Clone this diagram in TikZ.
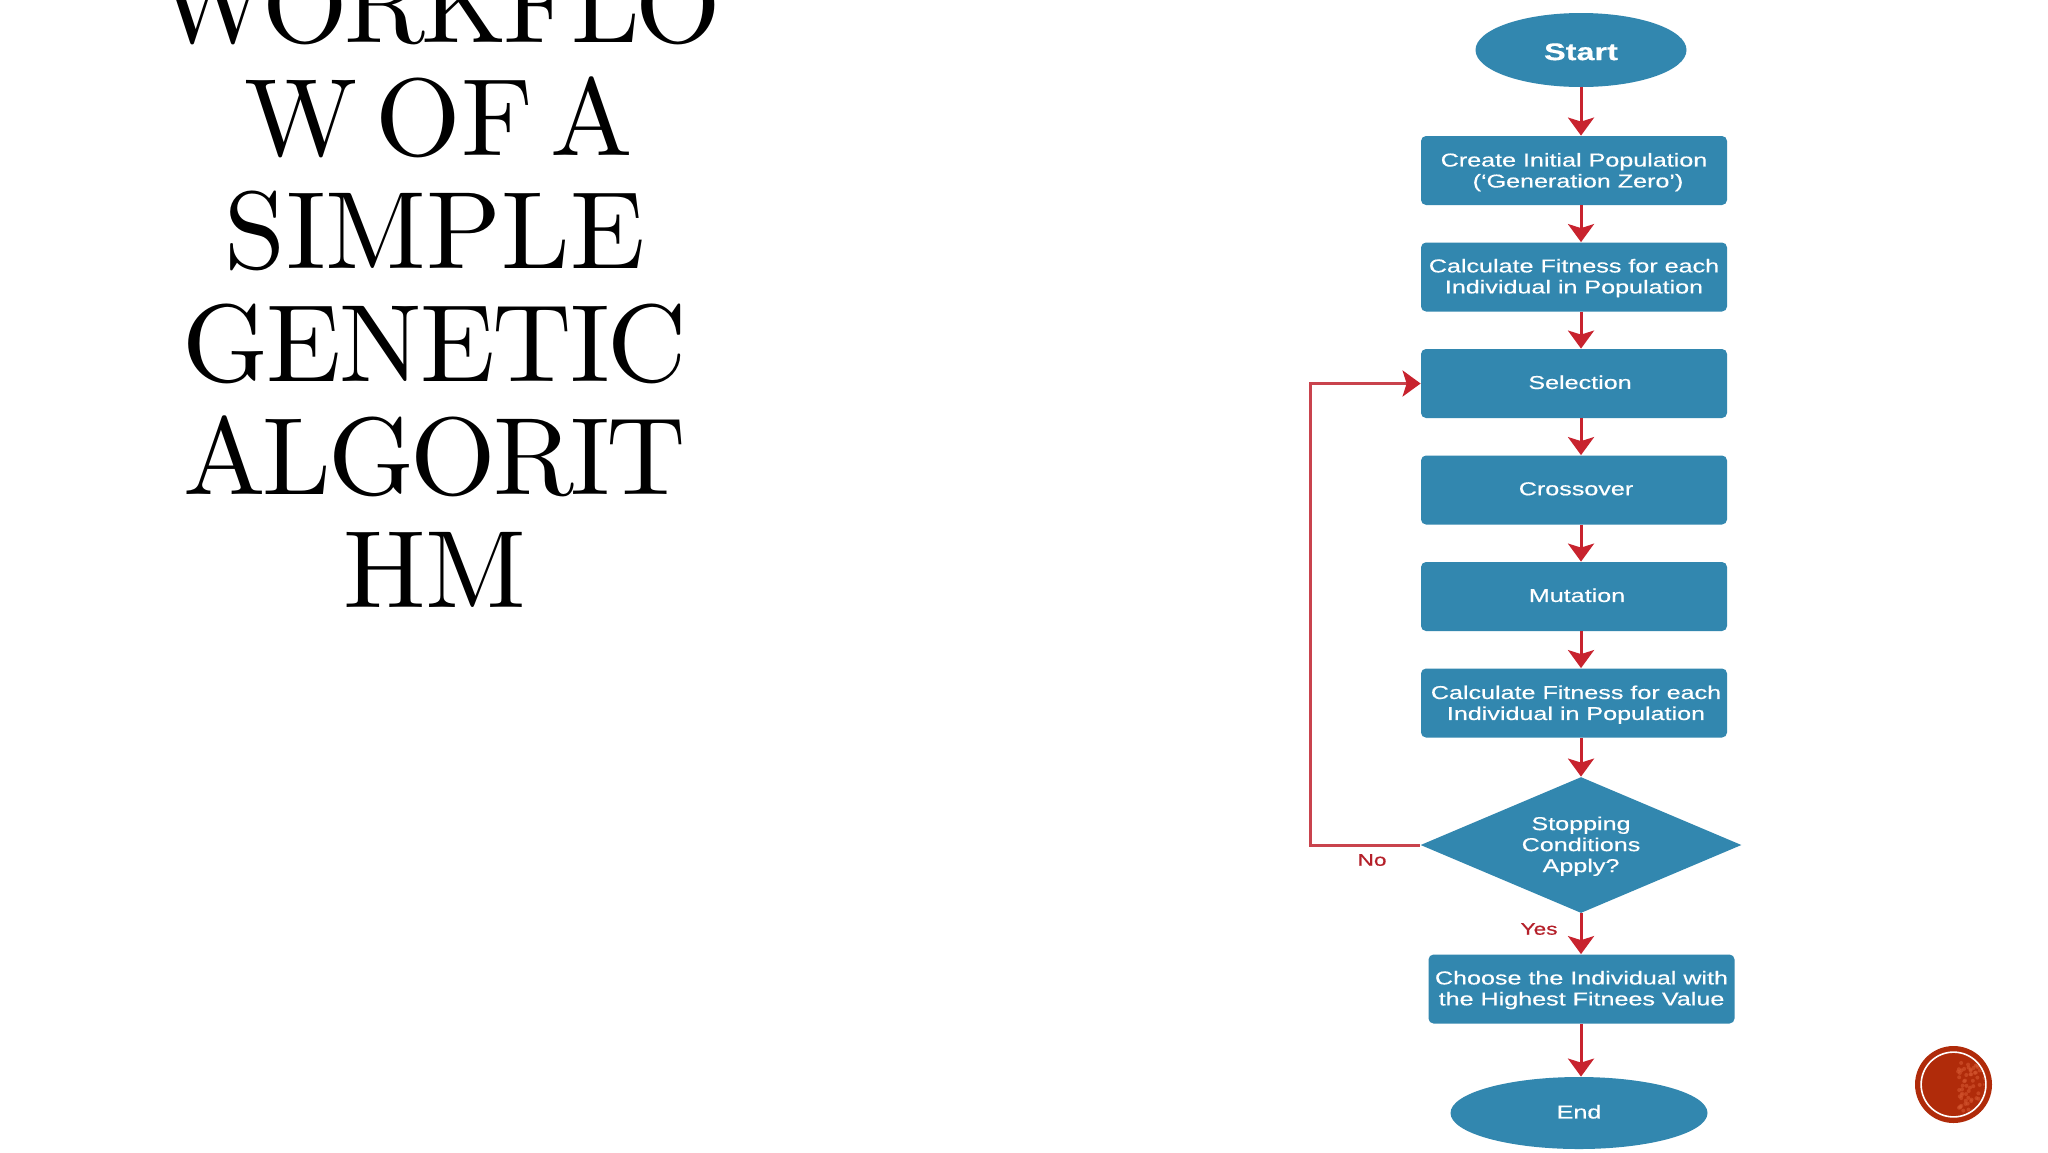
\documentclass[tikz,border=0pt]{standalone}
\usepackage{fontspec}
\usetikzlibrary{shapes.geometric,arrows.meta}
\newfontfamily\boxfont{Liberation Sans}[FakeStretch=1.35,FakeBold=0.5]
\newfontfamily\titlefont{lmroman10-regular.otf}[WordSpace=0.48]
\definecolor{flowblue}{HTML}{3287AF}
\definecolor{flowred}{HTML}{C8232E}
\definecolor{looped}{HTML}{C9434D}
\definecolor{labelred}{HTML}{B5202A}
\definecolor{badgered}{HTML}{B02B0A}
\definecolor{badgedot}{HTML}{D4552F}
\newcommand\downto[1]{\rule{0pt}{#1}}
\newcommand\upby[1]{\rule[-#1]{0pt}{0pt}}
\newcommand\tightline[2]{{\addfontfeatures{LetterSpace=-#1}#2}}
\tikzset{
  x=0.5pt,y=-0.5pt,
  titletext/.style={inner sep=0pt,align=center,font=\titlefont\fontsize{55}{56.5}\selectfont,text=black},
  flowbox/.style={rectangle,rounded corners=2.5pt,fill=flowblue,text=white,inner sep=0pt,align=center,
    minimum width=153pt,minimum height=34.5pt,font=\boxfont\fontsize{9.3}{10.5}\selectfont},
  terminal/.style={ellipse,fill=flowblue,text=white,inner sep=0pt,font=\boxfont\fontsize{9.3}{10.5}\selectfont},
  decision/.style={diamond,fill=flowblue,text=white,inner sep=0pt,align=center,aspect=2.35,
    minimum width=160.5pt,minimum height=68pt,font=\boxfont\fontsize{9.3}{10.5}\selectfont},
  flowarrow/.style={draw=flowred,line width=1.5pt,-{Stealth[length=9pt,width=13pt,inset=2pt]}},
  looparrow/.style={draw=looped,line width=1.5pt,-{Stealth[length=9pt,width=13pt,inset=2pt,color=flowred]}},
  flowlabel/.style={inner sep=0pt,text=labelred,font=\boxfont\fontsize{8.4}{10}\selectfont}
}
\begin{document}
\begin{tikzpicture}
\useasboundingbox (0,0) rectangle (2048,1152);
\clip (0,0) rectangle (2048,1152);
\fill[white] (0,0) rectangle (2048,1152);

\node[titletext,anchor=north] (title) at (435,-35) {\hspace*{4pt}\tightline{3.6}{WORKFLO}\\\hspace*{4pt}W OF A\\SIMPLE\\\tightline{1.9}{GENETIC}\\\tightline{3.2}{ALGORIT}\\HM};

\node[terminal,minimum width=105.5pt,minimum height=37pt,font=\boxfont\bfseries\fontsize{12}{14}\selectfont] (start) at (1581,50) {\downto{10.2pt}Start};
\node[flowbox] (create) at (1574,170.5) {\downto{8.4pt}Create Initial Population\\\hspace*{4pt}(‘Generation Zero’)};
\node[flowbox] (fit1) at (1574,277) {\downto{7.8pt}Calculate Fitness for each\\Individual in Population};
\node[flowbox] (sel) at (1574,383.5) {\hspace*{6pt}\upby{1.3pt}Selection};
\node[flowbox] (cross) at (1574,490) {\hspace*{2pt}\upby{1.3pt}Crossover};
\node[flowbox] (mut) at (1574,596.5) {\hspace*{3pt}\upby{1.3pt}Mutation};
\node[flowbox] (fit2) at (1574,703) {\hspace*{2pt}\downto{8.4pt}Calculate Fitness for each\\\hspace*{2pt}Individual in Population};
\node[decision] (cond) at (1581,845) {\downto{8.0pt}Stopping\\Conditions\\Apply?};
\node[flowbox] (best) at (1581.5,989) {\downto{7.8pt}Choose the Individual with\\the Highest Fitnees Value};
\node[terminal,minimum width=128.5pt,minimum height=36pt] (finish) at (1579,1113) {\upby{1.3pt}End};

\draw[flowarrow] (start.south) -- (create.north -| start.south);
\draw[flowarrow] (create.south -| start.south) -- (fit1.north -| start.south);
\draw[flowarrow] (fit1.south -| start.south) -- (sel.north -| start.south);
\draw[flowarrow] (sel.south -| start.south) -- (cross.north -| start.south);
\draw[flowarrow] (cross.south -| start.south) -- (mut.north -| start.south);
\draw[flowarrow] (mut.south -| start.south) -- (fit2.north -| start.south);
\draw[flowarrow] (fit2.south -| start.south) -- (cond.north -| start.south);
\draw[flowarrow] (cond.south -| start.south) -- (best.north -| start.south);
\draw[flowarrow] (best.south -| start.south) -- (finish.north -| start.south);

\coordinate (loopx) at (1310,600);
\draw[looparrow] (cond.west) -- (loopx |- cond.west) -- (loopx |- sel.west) -- (sel.west);

\node[flowlabel] (no) at (1372,860) {No};
\node[flowlabel] (yes) at (1539,929) {Yes};

\fill[badgered] (1953.5,1084.5) circle[radius=19.25pt];
\draw[white,line width=0.8pt] (1953.5,1084.5) circle[radius=16.2pt];
\begin{scope}
  \clip (1953.5,1084.5) circle[radius=15.5pt];
  \pgfmathsetseed{7}
  \foreach \i in {1,...,70}{
    \pgfmathsetmacro{\dx}{1958+rnd*30}
    \pgfmathsetmacro{\dy}{1062+rnd*50}
    \fill[badgedot,opacity=0.6] (\dx,\dy) circle[radius=1pt];
  }
\end{scope}
\end{tikzpicture}
\end{document}
